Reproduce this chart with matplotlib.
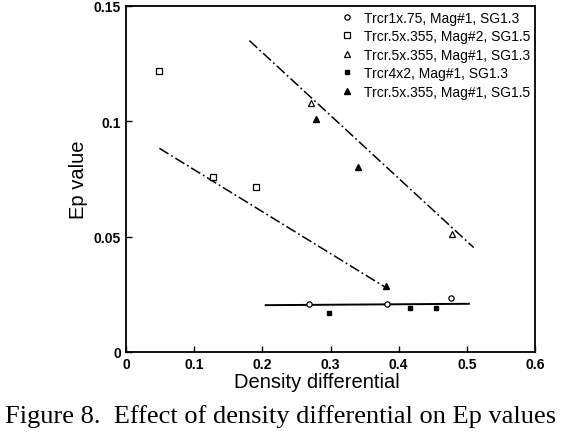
import matplotlib
matplotlib.use("Agg")
import matplotlib.pyplot as plt

# Data
circ_x = [0.268, 0.383, 0.477]
circ_y = [0.0208, 0.0210, 0.0232]
sq_x = [0.049, 0.127, 0.191]
sq_y = [0.122, 0.0758, 0.0717]
tri_x = [0.271, 0.478]
tri_y = [0.108, 0.051]
fsq_x = [0.298, 0.416, 0.455]
fsq_y = [0.0167, 0.0189, 0.0189]
ftri_x = [0.278, 0.340, 0.381]
ftri_y = [0.101, 0.080, 0.0284]

fit1_x = [0.181, 0.510]
fit1_y = [0.135, 0.0453]
fit2_x = [0.049, 0.383]
fit2_y = [0.0883, 0.0276]
fit3_x = [0.205, 0.503]
fit3_y = [0.0203, 0.0209]

labels = ["Trcr1x.75, Mag#1, SG1.3", "Trcr.5x.355, Mag#2, SG1.5",
          "Trcr.5x.355, Mag#1, SG1.3", "Trcr4x2, Mag#1, SG1.3",
          "Trcr.5x.355, Mag#1, SG1.5"]
xticks = [0, 0.1, 0.2, 0.3, 0.4, 0.5, 0.6]
xticklabels = ["0", "0.1", "0.2", "0.3", "0.4", "0.5", "0.6"]
yticks = [0, 0.05, 0.1, 0.15]
yticklabels = ["0", "0.05", "0.1", "0.15"]

fig = plt.figure(figsize=(5.61, 4.39), dpi=100)
ax = fig.add_axes([126/561, 1-353/439, (535-126)/561, (353-7)/439])

dashdot = (0, (7, 2, 1.2, 2))
ax.plot(fit1_x, fit1_y, color='black', lw=1.1, linestyle=dashdot)
ax.plot(fit2_x, fit2_y, color='black', lw=1.1, linestyle=dashdot)
ax.plot(fit3_x, fit3_y, color='black', lw=1.4, linestyle='-')

ms = 3.8
h1, = ax.plot(circ_x, circ_y, 'o', mfc='white', mec='black', ms=ms, mew=0.9, linestyle='none')
h2, = ax.plot(sq_x, sq_y, 's', mfc='white', mec='black', ms=ms, mew=0.9, linestyle='none')
h3, = ax.plot(tri_x, tri_y, '^', mfc='white', mec='black', ms=ms+0.6, mew=0.9, linestyle='none')
h4, = ax.plot(fsq_x, fsq_y, 's', mfc='black', mec='black', ms=ms-0.8, linestyle='none')
h5, = ax.plot(ftri_x, ftri_y, '^', mfc='black', mec='black', ms=ms+0.6, linestyle='none')

ax.set_xlim(0, 0.6)
ax.set_ylim(0, 0.15)
ax.set_xticks(xticks)
ax.set_xticklabels(xticklabels)
ax.set_yticks(yticks)
ax.set_yticklabels(yticklabels)
ax.tick_params(direction='in', length=4, width=1, labelsize=10)
for lab in ax.get_xticklabels() + ax.get_yticklabels():
    lab.set_fontfamily('Liberation Sans')
    lab.set_fontweight('bold')
for s in ax.spines.values():
    s.set_linewidth(1.3)

ax.set_xlabel("Density differential", fontsize=14.5, family='Liberation Sans')
ax.set_ylabel("Ep value", fontsize=14.5, family='Liberation Sans')
ax.xaxis.set_label_coords(0.467, -0.084)
ax.yaxis.set_label_coords(-0.117, 0.5)
ax.xaxis.label.set_va('center')
ax.yaxis.label.set_va('center')

leg = ax.legend([h1, h2, h3, h4, h5], labels, loc='upper right', frameon=False,
                handlelength=0.6, handletextpad=0.9, labelspacing=0.32,
                borderaxespad=0.05, borderpad=0.3,
                prop={'family': 'Liberation Sans', 'size': 10})

fig.text(0.5, 1-423/439, "Figure 8.  Effect of density differential on Ep values",
         ha='center', va='baseline', fontsize=19, family='Liberation Serif')

fig.savefig("out.png", dpi=100)
